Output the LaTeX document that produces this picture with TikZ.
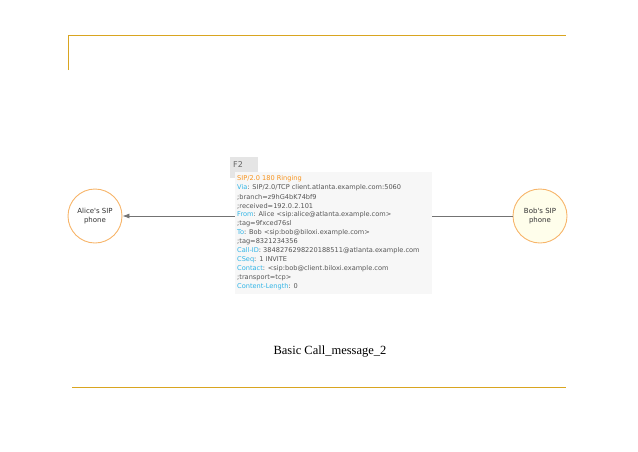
\documentclass[tikz,border=0pt]{standalone}
\usepackage{fontspec}
\usetikzlibrary{arrows.meta}
\setmainfont{Liberation Serif}
\newfontfamily\msgfont{DejaVu Sans}
\definecolor{gold}{HTML}{D9A520}
\definecolor{ring}{HTML}{F7B56A}
\definecolor{kblue}{HTML}{2FB4E6}
\definecolor{korange}{HTML}{F7941D}
\definecolor{txt}{HTML}{555555}
\tikzset{
  phone/.style={circle,draw=ring,line width=0.9pt,minimum size=54pt,inner sep=0pt,align=center,font=\msgfont\fontsize{7}{8.5}\selectfont,text=black!80},
  rule/.style={draw=gold,line width=0.9pt},
  ln/.style={anchor=west,inner sep=0pt,font=\msgfont\fontsize{6.6}{7}\selectfont,text=txt}
}
\begin{document}
\begin{tikzpicture}[x=1pt,y=-1pt]
\useasboundingbox (0,0) rectangle (638,451);
\draw[rule] (68,70) -- (68,35) -- (566,35);
\draw[rule] (72,387) -- (566,387);
\node[phone,fill=white] (alice) at (95,216) {Alice's SIP\\phone};
\node[phone,fill=yellow!8] (bob) at (540,216) {Bob's SIP\\phone};
\draw[black!55,line width=0.8pt,-{Latex[length=7pt,width=5pt]}] (bob) -- (alice);
\fill[black!10] (230,157) rectangle (258,178);
\node[anchor=west,inner sep=0pt,font=\msgfont\fontsize{8}{9}\selectfont,text=black!60] (f2) at (233,165) {F2};
\fill[black!3] (235,172) rectangle (432,294);
\node[ln,text=korange] (l1) at (237,179) {SIP/2.0 180 Ringing};
\node[ln] (l2) at (237,188) {\textcolor{kblue}{Via}: SIP/2.0/TCP client.atlanta.example.com:5060};
\node[ln] (l3) at (237,197) {;branch=z9hG4bK74bf9};
\node[ln] (l4) at (237,206) {;received=192.0.2.101};
\node[ln] (l5) at (237,215) {\textcolor{kblue}{From}: Alice <sip:alice@atlanta.example.com>};
\node[ln] (l6) at (237,224) {;tag=9fxced76sl};
\node[ln] (l7) at (237,233) {\textcolor{kblue}{To}: Bob <sip:bob@biloxi.example.com>};
\node[ln] (l8) at (237,242) {;tag=8321234356};
\node[ln] (l9) at (237,251) {\textcolor{kblue}{Call-ID}: 3848276298220188511@atlanta.example.com};
\node[ln] (l10) at (237,260) {\textcolor{kblue}{CSeq}: 1 INVITE};
\node[ln] (l11) at (237,269) {\textcolor{kblue}{Contact}: <sip:bob@client.biloxi.example.com};
\node[ln] (l12) at (237,278) {;transport=tcp>};
\node[ln] (l13) at (237,287) {\textcolor{kblue}{Content-Length}: 0};
\node[font=\fontsize{12.5}{14}\selectfont] (cap) at (330,352) {Basic Call\_message\_2};
\end{tikzpicture}
\end{document}
